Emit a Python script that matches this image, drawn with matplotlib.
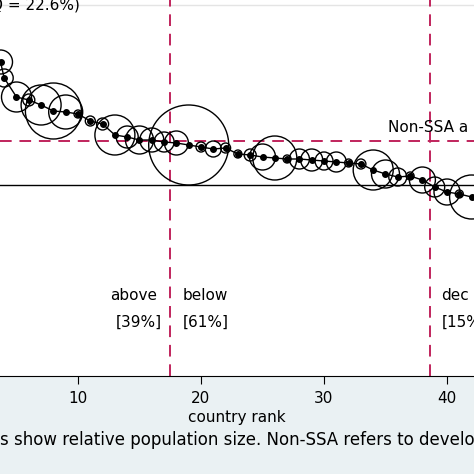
import numpy as np
import matplotlib.pyplot as plt

# rank, gap (pixel-like units above axis) and relative population circle radius
rank = [3.7] + list(range(4, 43))
gap = [314, 298, 279, 276, 271, 265, 264, 262, 255, 252, 241, 239, 236, 236,
       234, 233, 231, 229, 227, 228, 222, 221, 219, 218, 217, 217, 216, 215,
       214, 213, 212, 206, 202, 199, 200, 196, 189, 184, 182, 179]
pop = [12, 9, 15, 6, 20, 28, 17, 4, 5, 6, 20, 11, 14, 12, 10, 12, 40, 5, 8,
       5, 4, 6, 13, 22, 4, 10, 11, 9, 10, 4, 5, 20, 14, 9, 4, 13, 10, 13, 4, 22]
ssa_line = 191
nonssa_line = 235
cut1, cut2 = 17.5, 38.6

bg = "#eaf1f3"
fig = plt.figure(figsize=(4.74, 4.74), dpi=100, facecolor=bg)
ax = fig.add_axes([0, (474 - 376) / 474, 1, 376 / 474])
ax.set_facecolor("white")
ax.set_xlim(10 - 78 / 12.3, 10 + 396 / 12.3)
ax.set_ylim(0, 376)

px = 0.72  # points per pixel
ax.plot(rank, gap, color="black", lw=1, zorder=2)
ax.scatter(rank, gap, s=[(2 * r * px) ** 2 for r in pop], facecolors="none",
           edgecolors="black", lw=1, zorder=3)
ax.scatter(rank, gap, s=16, color="black", zorder=4)

ax.axhline(371, color="#e4e4e4", lw=1, zorder=0)
ax.axhline(ssa_line, color="black", lw=1, zorder=1)
ax.axhline(nonssa_line, color="#c0245c", lw=1.4, ls=(0, (6, 4)), zorder=1)
for c in (cut1, cut2):
    ax.axvline(c, color="#c0245c", lw=1.4, ls=(0, (6, 4)), zorder=1)

for s in ("top", "right", "left"):
    ax.spines[s].set_visible(False)
ax.set_yticks([])
ax.set_xticks([10, 20, 30, 40])
ax.tick_params(axis="x", labelsize=11, length=6, pad=5)
ax.set_xlabel("country rank", fontsize=11, labelpad=3)

ax.text(-0.02, 371, "Q = 22.6%)", fontsize=11, va="center", ha="left",
        transform=ax.get_yaxis_transform())
ax.text(388 / 474, 248, "Non-SSA a", fontsize=11, va="center",
        transform=ax.get_yaxis_transform())
ax.text(cut1 - 1.05, 81, "above", fontsize=11, ha="right", va="center")
ax.text(cut1 - 0.65, 54, "[39%]", fontsize=11, ha="right", va="center")
ax.text(cut1 + 1.0, 81, "below", fontsize=11, ha="left", va="center")
ax.text(cut1 + 1.05, 54, "[61%]", fontsize=11, ha="left", va="center")
ax.text(cut2 + 0.9, 81, "dec", fontsize=11, ha="left", va="center")
ax.text(cut2 + 0.95, 54, "[15%", fontsize=11, ha="left", va="center")

fig.text(0.0, 1 - 440 / 474, "s show relative population size. Non-SSA refers to developing",
         fontsize=12, va="center", ha="left")

fig.savefig("out.png", dpi=100, facecolor=bg)
